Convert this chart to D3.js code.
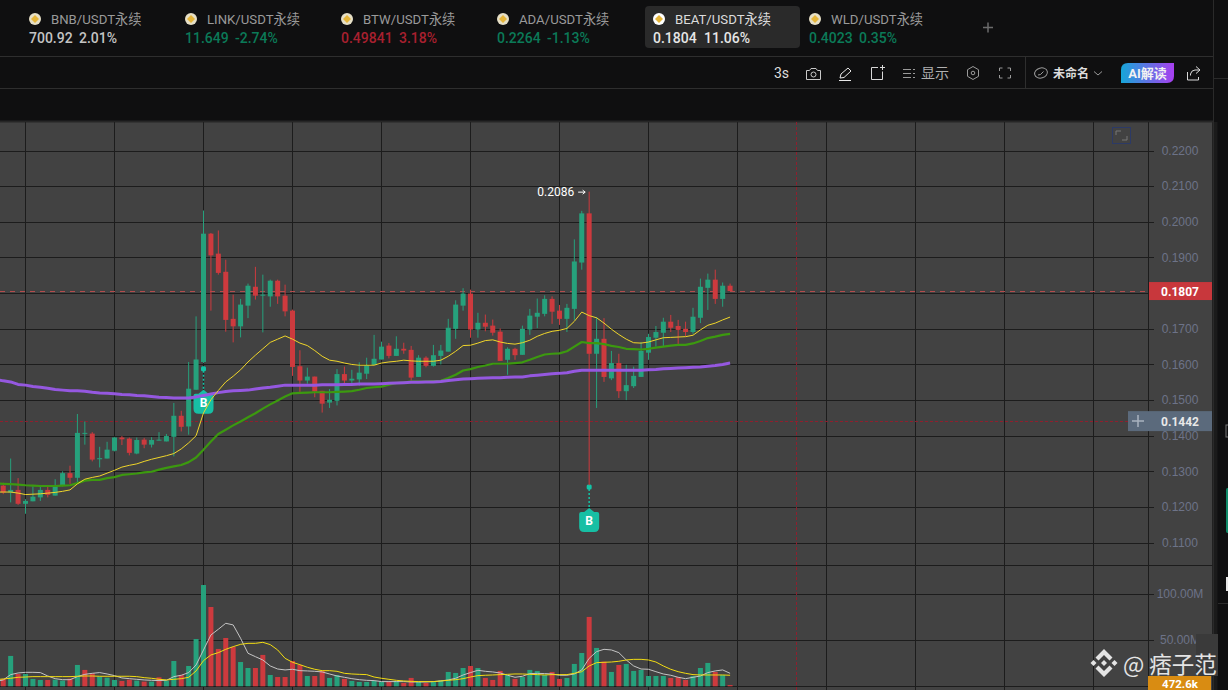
<!DOCTYPE html>
<html>
<head>
<meta charset="utf-8">
<script src="https://cdn.jsdelivr.net/npm/d3@7"></script>
<style>
  html, body { margin: 0; padding: 0; background: #0f0f10; overflow: hidden; }
  svg { display: block; font-family: Roboto, "Noto Sans CJK SC", sans-serif; }
</style>
</head>
<body>
<svg width="1228" height="690"></svg>
<script>
// Candle index of the first entry; index 0 sits on the first vertical grid line
const firstIdx = -4;

const opens = [
  .1262,.1261,.1242,.1249,.1210,.1217,.1228,.1249,.1233,.1262,
  .1296,.1283,.1407,.1407,.1335,.1337,.1359,.1396,.1393,.1351,
  .1390,.1376,.1388,.1385,.1398,.1457,.1427,.1530,.1608,.1968,
  .1912,.1861,.1729,.1708,.1766,.1819,.1794,.1792,.1836,.1794,
  .1752,.1596,.1556,.1567,.1527,.1494,.1499,.1574,.1556,.1559,
  .1575,.1600,.1615,.1654,.1625,.1645,.1642,.1566,.1620,.1597,
  .1625,.1637,.1701,.1766,.1800,.1699,.1718,.1710,.1693,.1614,
  .1645,.1628,.1699,.1735,.1743,.1785,.1752,.1729,.1757,.1887,
  .2025,.1631,.1673,.1562,.1605,.1526,.1540,.1566,.1634,.1676,
  .1690,.1721,.1709,.1701,.1692,.1732,.1816,.1839,.1785,.1822];
const closes = [
  .1260,.1242,.1249,.1210,.1218,.1230,.1249,.1235,.1262,.1296,
  .1283,.1409,.1409,.1334,.1338,.1362,.1396,.1391,.1353,.1389,
  .1376,.1389,.1390,.1400,.1457,.1426,.1533,.1615,.1968,.1907,
  .1858,.1726,.1708,.1769,.1822,.1794,.1797,.1836,.1792,.1750,
  .1594,.1556,.1567,.1525,.1491,.1502,.1574,.1556,.1561,.1578,
  .1598,.1617,.1651,.1625,.1645,.1640,.1564,.1620,.1597,.1627,
  .1640,.1704,.1769,.1800,.1699,.1718,.1707,.1690,.1611,.1645,
  .1627,.1701,.1738,.1746,.1785,.1749,.1729,.1760,.1890,.2025,
  .1631,.1673,.1566,.1605,.1526,.1543,.1569,.1639,.1678,.1692,
  .1721,.1704,.1698,.1692,.1735,.1819,.1839,.1785,.1822,.1807];
const highs = [
  .1266,.1269,.1337,.1282,.1223,.1259,.1259,.1261,.1279,.1301,
  .1317,.1462,.1441,.1411,.1370,.1384,.1397,.1400,.1396,.1396,
  .1395,.1397,.1411,.1406,.1493,.1471,.1608,.1736,.2033,.1970,
  .1977,.1895,.1797,.1785,.1828,.1875,.1853,.1839,.1839,.1825,
  .1755,.1641,.1592,.1567,.1527,.1532,.1588,.1595,.1586,.1607,
  .1620,.1684,.1665,.1661,.1680,.1662,.1653,.1627,.1624,.1656,
  .1656,.1729,.1781,.1815,.1811,.1746,.1741,.1727,.1702,.1649,
  .1648,.1710,.1757,.1786,.1795,.1792,.1768,.1771,.1952,.2032,
  .2086,.1734,.1731,.1639,.1631,.1600,.1595,.1664,.1687,.1709,
  .1732,.1740,.1726,.1721,.1760,.1842,.1856,.1867,.1831,.1828];
const lows = [
  .1255,.1237,.1214,.1207,.1182,.1217,.1218,.1228,.1233,.1259,
  .1266,.1268,.1376,.1329,.1312,.1337,.1357,.1375,.1346,.1349,
  .1366,.1368,.1388,.1385,.1343,.1413,.1404,.1530,.1605,.1752,
  .1853,.1693,.1663,.1677,.1731,.1783,.1691,.1763,.1771,.1736,
  .1569,.1524,.1547,.1509,.1466,.1479,.1486,.1541,.1544,.1541,
  .1560,.1600,.1615,.1618,.1625,.1631,.1556,.1566,.1593,.1595,
  .1601,.1637,.1673,.1752,.1676,.1676,.1694,.1682,.1611,.1572,
  .1614,.1628,.1684,.1703,.1736,.1715,.1712,.1692,.1726,.1867,
  .1262,.1479,.1552,.1557,.1507,.1501,.1535,.1566,.1614,.1651,
  .1651,.1692,.1656,.1681,.1687,.1717,.1754,.1771,.1763,.1807];

const maYellow = [
  .1243,.1243,.1243,.1240,.1236,.1237,.1238,.1240,.1242,.1245,
  .1249,.1266,.1279,.1284,.1288,.1296,.1304,.1313,.1318,.1322,
  .1329,.1335,.1340,.1345,.1351,.1364,.1381,.1401,.1465,.1502,
  .1528,.1552,.1568,.1586,.1608,.1627,.1645,.1663,.1672,.1681,
  .1672,.1661,.1654,.1640,.1624,.1613,.1610,.1605,.1601,.1599,
  .1599,.1599,.1605,.1608,.1610,.1613,.1611,.1610,.1610,.1610,
  .1613,.1624,.1638,.1654,.1655,.1661,.1668,.1670,.1664,.1660,
  .1658,.1662,.1669,.1680,.1688,.1694,.1697,.1702,.1722,.1748,
  .1738,.1732,.1717,.1700,.1685,.1672,.1662,.1661,.1664,.1670,
  .1676,.1677,.1678,.1679,.1683,.1698,.1711,.1717,.1726,.1734];
const maGreen = [
  .1267,.1266,.1265,.1264,.1262,.1261,.1260,.1260,.1260,.1261,
  .1262,.1268,.1275,.1277,.1277,.1282,.1285,.1291,.1293,.1295,
  .1298,.1300,.1306,.1311,.1315,.1319,.1327,.1340,.1362,.1385,
  .1406,.1418,.1430,.1441,.1453,.1464,.1477,.1489,.1500,.1511,
  .1520,.1521,.1522,.1523,.1523,.1523,.1524,.1525,.1526,.1530,
  .1535,.1537,.1539,.1544,.1549,.1551,.1553,.1553,.1553,.1554,
  .1555,.1563,.1572,.1584,.1588,.1594,.1598,.1603,.1603,.1603,
  .1605,.1607,.1614,.1622,.1629,.1631,.1632,.1638,.1651,.1664,
  .1661,.1661,.1658,.1653,.1650,.1645,.1644,.1643,.1645,.1648,
  .1651,.1654,.1656,.1656,.1660,.1667,.1675,.1679,.1684,.1687];
const maPurple = [
  .1559,.1555,.1552,.1545,.1543,.1539,.1537,.1534,.1531,.1529,
  .1527,.1527,.1526,.1523,.1521,.1520,.1519,.1517,.1516,.1514,
  .1513,.1511,.1509,.1508,.1507,.1507,.1507,.1510,.1514,.1518,
  .1522,.1525,.1527,.1528,.1529,.1532,.1535,.1537,.1540,.1543,
  .1543,.1543,.1543,.1543,.1544,.1544,.1544,.1545,.1545,.1546,
  .1546,.1546,.1547,.1548,.1549,.1550,.1551,.1551,.1552,.1552,
  .1553,.1556,.1558,.1560,.1561,.1562,.1563,.1564,.1564,.1565,
  .1566,.1566,.1569,.1571,.1573,.1575,.1576,.1578,.1582,.1585,
  .1585,.1585,.1585,.1585,.1585,.1585,.1585,.1585,.1586,.1587,
  .1589,.1590,.1591,.1592,.1593,.1594,.1596,.1598,.1601,.1605];

// volume in millions
const volumes = [
  5.0,8.0,33.0,13.4,13.4,8.0,6.9,6.9,7.2,6.2,
  8.3,23.2,17.8,14.1,10.5,9.4,6.9,5.8,7.2,6.2,
  5.1,5.1,9.8,6.2,27.5,12.3,22.1,51.4,110.1,86.2,
  40.6,52.5,42.8,26.4,19.9,19.9,34.1,12.3,10.1,10.1,
  27.5,23.2,11.2,11.2,16.7,9.1,12.3,8.0,5.8,4.7,
  4.7,5.8,5.1,5.1,5.8,3.6,9.1,4.7,3.6,5.1,
  6.5,15.6,14.5,19.9,22.1,19.9,9.1,6.9,16.7,12.3,
  8.0,10.1,17.8,16.7,12.3,15.6,8.0,9.1,24.3,36.2,
  75.4,41.7,26.8,15.6,23.2,24.3,16.7,17.8,11.2,11.2,
  11.2,9.1,10.1,6.9,11.2,19.9,25.4,15.6,12.3,1.4];
const volMaWhite = [
  5.1,6.9,12.7,14.5,15.2,15.2,14.9,11.2,8.3,7.2,
  7.2,10.5,13.0,14.1,14.9,13.4,11.6,9.1,8.3,7.6,
  6.9,6.5,6.2,6.5,10.5,12.0,14.9,23.2,39.5,55.8,
  62.0,68.5,66.7,52.2,35.9,32.2,28.6,22.1,18.8,17.8,
  18.5,17.0,16.7,16.3,15.6,13.4,11.2,9.8,8.3,7.2,
  6.5,6.2,5.1,5.1,5.1,5.1,4.7,4.7,4.7,5.1,
  5.8,6.9,8.7,12.3,14.9,17.4,16.3,15.6,14.5,12.0,
  9.8,10.9,13.8,14.1,13.8,13.4,12.0,12.0,13.4,17.8,
  30.4,37.7,40.2,39.5,36.6,28.6,22.1,18.8,18.5,15.9,
  13.4,12.0,9.8,8.3,9.8,11.2,14.9,16.7,17.8,14.1];
const volMaYellow = [
  7.2,8.0,8.7,9.8,10.1,10.5,10.5,10.5,10.5,10.5,
  10.5,10.9,11.2,11.2,10.9,10.9,10.9,10.9,10.9,10.5,
  9.4,8.7,7.6,6.9,7.6,8.3,9.8,16.7,27.9,34.1,
  36.6,40.2,43.1,45.6,46.7,46.7,47.8,45.3,39.5,30.4,
  26.1,23.5,20.7,18.5,17.0,17.0,16.3,14.1,13.4,13.0,
  12.7,10.1,8.7,7.6,6.5,5.8,5.4,5.1,5.1,5.1,
  5.8,6.5,7.2,8.3,10.1,11.6,12.0,12.3,12.7,13.0,
  13.4,13.4,13.0,12.7,12.3,12.7,12.7,12.7,14.1,15.9,
  22.1,25.7,26.1,26.4,27.2,28.6,29.3,29.3,28.6,26.4,
  22.1,18.5,15.9,14.1,12.7,12.3,12.3,12.3,12.3,12.0];
// near-flat candles whose volume bar is red although the body is green
const redVolDoji = [8, 18, 32];

const priceTicks = [.22,.21,.20,.19,.18,.17,.16,.15,.14,.13,.12,.11];
const volTicks = [100, 50, 0];
const gridIdx = d3.range(0, 145, 12);

const buyIdx = [24, 76];
const buyPrice = [.1589, .1257];
const maxIdx = 76, maxPrice = .2086;
const lastPrice = .1807, crossPrice = .1442, crossIdx = 104;
const lastVolLabel = "472.6k";

const tabNames = ["BNB/USDT永续","LINK/USDT永续","BTW/USDT永续","ADA/USDT永续","BEAT/USDT永续","WLD/USDT永续"];
const tabPrices = ["700.92","11.649","0.49841","0.2264","0.1804","0.4023"];
const tabChanges = ["2.01%","-2.74%","3.18%","-1.13%","11.06%","0.35%"];
const tabColors = ["#c4c4c4","#0b7a58","#a8202f","#0b7a58","#e6e6e6","#0b7a58"];
const tabX = [29,185,341,497,653,809];
const tabChangeX = [79,235,399,547,704,859];

const bars = opens.map((o, k) => ({
  i: firstIdx + k, open: o, close: closes[k], high: highs[k], low: lows[k], vol: volumes[k]
}));

const upColor = "#26a17c", downColor = "#cd3a3e";
const plotRight = 1148.5, axisRight = 1212.5;
const svg = d3.select("svg");

const x = d3.scaleLinear().domain([0, 144]).range([25.5, 1093.5]);
const yPrice = d3.scaleLinear().domain([.11, .22]).range([543, 151]);
const yVol = d3.scaleLinear().domain([0, 100]).range([686.3, 594.3]);

// ---------- panels ----------
svg.append("rect").attr("x", 0).attr("y", 122).attr("width", axisRight).attr("height", 568).attr("fill", "#424242");
svg.append("rect").attr("x", axisRight).attr("y", 122).attr("width", 5).attr("height", 568).attr("fill", "#1b1b1b");
[56.5, 88.5].forEach(yy => {
  svg.append("line").attr("x1", 0).attr("x2", 1213).attr("y1", yy).attr("y2", yy).attr("stroke", "#2e2e2e");
});
svg.append("line").attr("x1", 0).attr("x2", 1213).attr("y1", 121.5).attr("y2", 121.5).attr("stroke", "#262626").attr("stroke-width", 2);
svg.append("line").attr("x1", 1213.5).attr("x2", 1213.5).attr("y1", 0).attr("y2", 690).attr("stroke", "#2a2a2a");
svg.append("line").attr("x1", 1214).attr("x2", 1228).attr("y1", 78.5).attr("y2", 78.5).attr("stroke", "#2a2a2a");

// ---------- grid and axes ----------
const gridColor = "#1c1c1c", labelColor = "#6d7388";

const vGrid = svg.append("g").attr("transform", "translate(0,122)")
  .call(d3.axisBottom(x).tickValues(gridIdx).tickSize(568).tickFormat("").offset(0));
vGrid.select(".domain").remove();
vGrid.selectAll("line").attr("stroke", gridColor).attr("shape-rendering", "crispEdges");

function styleHAxis(g) {
  g.select(".domain").remove();
  g.selectAll("line").attr("stroke", gridColor).attr("shape-rendering", "crispEdges");
  g.selectAll("text").attr("fill", labelColor).attr("font-size", 12).attr("text-anchor", "middle");
}
svg.append("g")
  .call(d3.axisRight(yPrice).tickValues(priceTicks).tickSize(1154).tickPadding(26).offset(0).tickFormat(d3.format(".4f")))
  .call(styleHAxis);
svg.append("g")
  .call(d3.axisRight(yVol).tickValues(volTicks).tickSize(1154).tickPadding(26).offset(0)
    .tickFormat(d => d === 0 ? "" : d3.format(".2f")(d) + "M"))
  .call(styleHAxis);

svg.append("line").attr("x1", plotRight).attr("x2", plotRight).attr("y1", 122).attr("y2", 690).attr("stroke", gridColor);
svg.append("line").attr("x1", 0).attr("x2", axisRight).attr("y1", 565.5).attr("y2", 565.5).attr("stroke", gridColor);

// ---------- crosshair and last price ----------
svg.append("line").attr("x1", x(crossIdx)).attr("x2", x(crossIdx)).attr("y1", 122).attr("y2", 690)
  .attr("stroke", "#8f1f2e").attr("stroke-dasharray", "3,2").attr("shape-rendering", "crispEdges");
svg.append("line").attr("x1", 0).attr("x2", 1128).attr("y1", yPrice(crossPrice)).attr("y2", yPrice(crossPrice))
  .attr("stroke", "#8f1f2e").attr("stroke-dasharray", "3,2").attr("shape-rendering", "crispEdges");
svg.append("line").attr("x1", 0).attr("x2", plotRight).attr("y1", yPrice(lastPrice)).attr("y2", yPrice(lastPrice))
  .attr("stroke", "#b54c4c").attr("stroke-dasharray", "5,5").attr("shape-rendering", "crispEdges");

const clip = svg.append("clipPath").attr("id", "plot");
clip.append("rect").attr("x", 0).attr("y", 122).attr("width", plotRight).attr("height", 568);
const chart = svg.append("g").attr("clip-path", "url(#plot)");

// ---------- buy markers (lines go over them) ----------
buyIdx.forEach((idx, k) => {
  const mx = x(idx), my = yPrice(buyPrice[k]);
  const m = chart.append("g").attr("transform", `translate(${mx},${my})`);
  m.append("line").attr("y1", 2).attr("y2", 23).attr("stroke", "#12c4a6").attr("stroke-width", 1.5).attr("stroke-dasharray", "2,2");
  m.append("rect").attr("x", -2.5).attr("y", -2.5).attr("width", 5).attr("height", 5).attr("rx", 1.5).attr("fill", "#12c4a6");
  m.append("path").attr("d", "M0,21L5,25L8,25Q10,25 10,27L10,40Q10,45 5,45L-5,45Q-10,45 -10,40L-10,27Q-10,25 -8,25L-5,25Z").attr("fill", "#17bfa4");
  m.append("text").attr("y", 38).attr("text-anchor", "middle").attr("fill", "#fff")
    .attr("font-size", 12).attr("font-weight", 700).text("B");
});

// ---------- candles ----------
const candle = chart.selectAll(".candle").data(bars).enter().append("g").attr("class", "candle");
const candleColor = d => d.close >= d.open ? upColor : downColor;
candle.append("line")
  .attr("x1", d => x(d.i)).attr("x2", d => x(d.i))
  .attr("y1", d => yPrice(d.high)).attr("y2", d => yPrice(d.low))
  .attr("stroke", candleColor).attr("stroke-width", 1);
candle.append("rect")
  .attr("x", d => x(d.i) - 2.5).attr("width", 5)
  .attr("y", d => yPrice(Math.max(d.open, d.close)))
  .attr("height", d => Math.max(1, Math.abs(yPrice(d.open) - yPrice(d.close))))
  .attr("fill", candleColor);

// ---------- moving averages ----------
function addLine(values, yScale, color, width) {
  chart.append("path")
    .datum(values)
    .attr("fill", "none").attr("stroke", color).attr("stroke-width", width)
    .attr("stroke-linejoin", "round")
    .attr("d", d3.line().x((d, k) => x(firstIdx + k)).y(d => yScale(d)));
}
addLine(maGreen, yPrice, "#3c990f", 2.2);
addLine(maPurple, yPrice, "#9558e0", 3);
addLine(maYellow, yPrice, "#f0d62a", 1);

// ---------- volume ----------
chart.selectAll(".vol").data(bars).enter().append("rect").attr("class", "vol")
  .attr("x", d => x(d.i) - 2.5).attr("width", 5)
  .attr("y", d => yVol(d.vol))
  .attr("height", d => yVol(0) - yVol(d.vol))
  .attr("fill", d => redVolDoji.includes(d.i) ? downColor : candleColor(d));
addLine(volMaWhite, yVol, "#c4c4c4", 1);
addLine(volMaYellow, yVol, "#f2dc12", 1);

// ---------- price labels ----------
svg.append("text").attr("x", x(maxIdx) - 15).attr("y", yPrice(maxPrice) + 4)
  .attr("text-anchor", "end").attr("fill", "#fff").attr("font-size", 12).text("0.2086");
svg.append("path")
  .attr("d", `M${x(maxIdx) - 11},${yPrice(maxPrice) + .5}h7m-2.5,-2l2.5,2l-2.5,2`)
  .attr("fill", "none").attr("stroke", "#fff");

svg.append("rect").attr("x", 1149).attr("y", yPrice(lastPrice) - 9).attr("width", 63).attr("height", 18).attr("fill", "#c8373c");
svg.append("text").attr("x", 1180).attr("y", yPrice(lastPrice) + 4.5).attr("text-anchor", "middle")
  .attr("fill", "#fff").attr("font-size", 12).attr("font-weight", 700).text(d3.format(".4f")(lastPrice));

svg.append("rect").attr("x", 1128).attr("y", yPrice(crossPrice) - 10).attr("width", 84).attr("height", 20).attr("fill", "#5b6a7c");
svg.append("text").attr("x", 1180).attr("y", yPrice(crossPrice) + 4.5).attr("text-anchor", "middle")
  .attr("fill", "#e8e8e8").attr("font-size", 12).attr("font-weight", 700).text(d3.format(".4f")(crossPrice));
svg.append("path").attr("d", `M1132,${yPrice(crossPrice)}h12M1138,${yPrice(crossPrice) - 6}v12`)
  .attr("stroke", "#a9b3bf").attr("stroke-width", 1.5);

// ---------- watermark ----------
svg.append("rect").attr("x", 1196).attr("y", 634).attr("width", 22).attr("height", 42).attr("fill", "#3a3a3a");
const wm = svg.append("g").attr("fill", "#e4e4e4").attr("transform", "translate(1104,663)");
wm.append("path").attr("d", "M0,-14L8.5,-5.5L5.5,-2.5L0,-8L-5.5,-2.5L-8.5,-5.5Z");
wm.append("path").attr("d", "M0,14L8.5,5.5L5.5,2.5L0,8L-5.5,2.5L-8.5,5.5Z");
[[-10.5,0],[10.5,0],[0,0]].forEach(([cx, cy]) => {
  wm.append("path").attr("d", `M${cx},${cy - 3}L${cx + 3},${cy}L${cx},${cy + 3}L${cx - 3},${cy}Z`);
});
svg.append("text").attr("x", 1123).attr("y", 673).attr("fill", "#e4e4e4").attr("font-size", 22.5)
  .attr("font-family", '"Noto Sans CJK SC", sans-serif').text("@ 痞子范");

svg.append("rect").attr("x", 1148).attr("y", 676).attr("width", 63).attr("height", 14).attr("fill", "#d98c12");
svg.append("text").attr("x", 1180).attr("y", 688).attr("text-anchor", "middle")
  .attr("fill", "#fff").attr("font-size", 11.5).attr("font-weight", 700).text(lastVolLabel);

// expand button
svg.append("rect").attr("x", 1112.5).attr("y", 127.5).attr("width", 18).attr("height", 16).attr("fill", "none").attr("stroke", "#2c3a66");
svg.append("path").attr("d", "M1116,135v-4h5M1127,136v4h-5").attr("fill", "none").attr("stroke", "#777");

// ---------- top tabs ----------
svg.append("rect").attr("x", 645).attr("y", 6).attr("width", 155).attr("height", 42).attr("rx", 4).attr("fill", "#2a2a2a");

const tabs = svg.selectAll(".tab").data(tabNames).enter().append("g").attr("class", "tab");
tabs.append("circle").attr("cx", (d, k) => tabX[k] + 6).attr("cy", 19).attr("r", 6)
  .attr("fill", (d, k) => k === 4 ? "#fff" : "#e6dfc6");
tabs.append("path")
  .attr("d", (d, k) => { const cx = tabX[k] + 6; return `M${cx},15L${cx + 4},19L${cx},23L${cx - 4},19Z`; })
  .attr("fill", "#e5b53a");
tabs.append("text").attr("x", (d, k) => tabX[k] + 22).attr("y", 24)
  .attr("fill", (d, k) => k === 4 ? "#dcdcdc" : "#9a9a9a").attr("font-size", 13.2).text(d => d);
tabs.append("text").attr("x", (d, k) => tabX[k]).attr("y", 43)
  .attr("fill", (d, k) => tabColors[k]).attr("font-size", 14).attr("font-weight", 500).text((d, k) => tabPrices[k]);
tabs.append("text").attr("x", (d, k) => tabChangeX[k]).attr("y", 43)
  .attr("fill", (d, k) => tabColors[k]).attr("font-size", 14).attr("font-weight", 500).text((d, k) => tabChanges[k]);
svg.append("path").attr("d", "M983,27.5h10M988,22.5v10").attr("stroke", "#6b6b6b").attr("stroke-width", 1.5);

// ---------- toolbar ----------
const iconColor = "#c9c9c9";
svg.append("text").attr("x", 774).attr("y", 78).attr("fill", "#dedede").attr("font-size", 14).text("3s");
const tb = svg.append("g").attr("fill", "none").attr("stroke", iconColor);
tb.append("path").attr("d", "M806.5,70.5h3l1.5,-2h5l1.5,2h3v9h-14Z");
tb.append("circle").attr("cx", 813.5).attr("cy", 74.5).attr("r", 2.5);
tb.append("path").attr("d", "M840,78l1,-4l7,-6l3,3l-7,6.5ZM839,80.5h12").attr("stroke", "#e8e8e8");
tb.append("path").attr("d", "M878,67.5h-6.5v12h11v-8M880,67.5h5M882.5,65v5").attr("stroke", "#d8d8d8");
tb.append("path").attr("d", "M903,69.5h8M903,73.5h8M903,77.5h8M913,69.5h2M913,73.5h2M913,77.5h2").attr("stroke", "#9a9a9a");
tb.append("path").attr("d", "M973,66.5l5.5,3.2v6.6l-5.5,3.2l-5.5,-3.2v-6.6Z").attr("stroke", "#9a9a9a");
tb.append("circle").attr("cx", 973).attr("cy", 73).attr("r", 1.8).attr("stroke", "#9a9a9a");
tb.append("path").attr("d", "M999.5,71v-3h3M1007.5,68h3v3M1010.5,75v3h-3M1002.5,78h-3v-3").attr("stroke", "#9a9a9a");
tb.append("ellipse").attr("cx", 1041).attr("cy", 73).attr("rx", 6.5).attr("ry", 5)
  .attr("transform", "rotate(-15 1041 73)").attr("stroke", "#9a9a9a");
tb.append("path").attr("d", "M1038,75l2.5,-0.5l3,-3").attr("stroke", "#9a9a9a");
tb.append("path").attr("d", "M1094,71.5l4,3.5l4,-3.5").attr("stroke", "#9a9a9a");
tb.append("path").attr("d", "M1200,70h-5a5,5 0 0 0 -4.5,4v1.5M1196,66.5l4,3.5l-4,3.5M1187.5,72v8h11v-3").attr("stroke", "#d8d8d8");
svg.append("text").attr("x", 921).attr("y", 78).attr("fill", "#b0b0b0").attr("font-size", 14).text("显示");
svg.append("line").attr("x1", 1025.5).attr("x2", 1025.5).attr("y1", 57).attr("y2", 88).attr("stroke", "#2e2e2e");
svg.append("text").attr("x", 1053).attr("y", 78).attr("fill", "#dcdcdc").attr("font-size", 12).attr("font-weight", 700).text("未命名");

const grad = svg.append("linearGradient").attr("id", "aiGrad");
grad.append("stop").attr("offset", "0%").attr("stop-color", "#16a6d8");
grad.append("stop").attr("offset", "100%").attr("stop-color", "#a83ff0");
svg.append("path").attr("d", "M1121,83v-13q0,-7 7,-7h46v13q0,7 -7,7Z").attr("fill", "url(#aiGrad)");
svg.append("text").attr("x", 1147.5).attr("y", 78).attr("text-anchor", "middle").attr("fill", "#f2f2f2")
  .attr("font-size", 13).attr("font-weight", 700).text("AI解读");

// ---------- bits of the side panel cut off by the window ----------
svg.append("rect").attr("x", 1226).attr("y", 488).attr("width", 3).attr("height", 45).attr("rx", 2).attr("fill", "#0f8a68");
svg.append("rect").attr("x", 1226).attr("y", 425).attr("width", 3).attr("height", 12).attr("fill", "none").attr("stroke", "#777");
svg.append("rect").attr("x", 1226).attr("y", 577).attr("width", 3).attr("height", 14).attr("fill", "#e8e8e8");
svg.append("line").attr("x1", 1218).attr("x2", 1228).attr("y1", 603.5).attr("y2", 603.5).attr("stroke", "#2c2c2c");
</script>
</body>
</html>
